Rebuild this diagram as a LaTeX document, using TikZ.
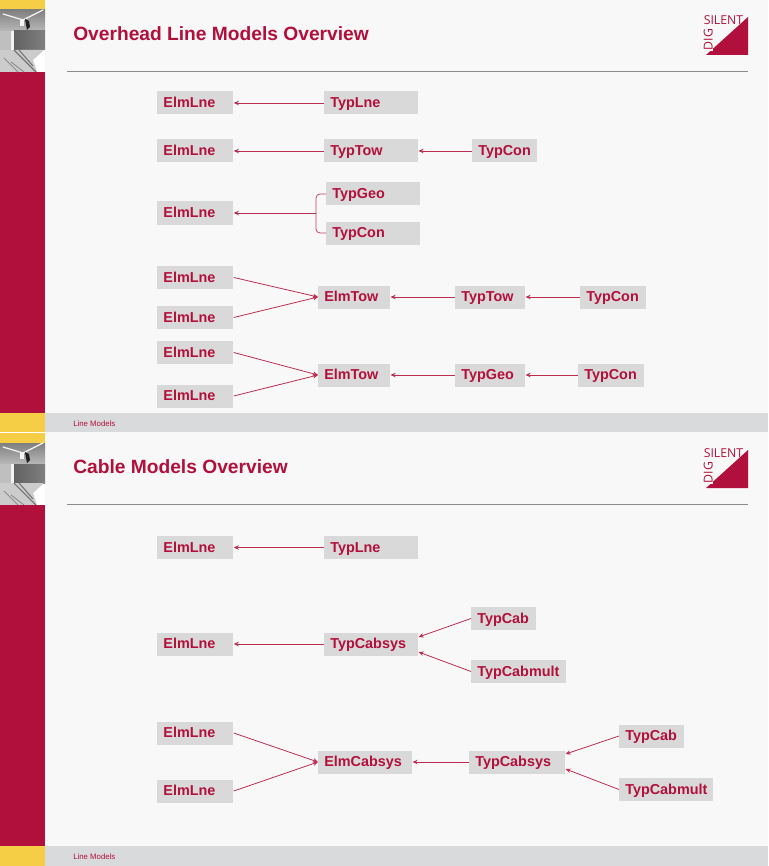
\documentclass[tikz,border=0pt]{standalone}
\usepackage{fontspec}
\setmainfont{Liberation Sans}
\newfontfamily\logofont{Open Sans}
\usetikzlibrary{arrows.meta,calc}
\definecolor{crim}{HTML}{B2103C}
\definecolor{gold}{HTML}{F6CE46}
\definecolor{pagebg}{HTML}{F8F8F8}
\definecolor{boxgray}{HTML}{D9D9D9}
\definecolor{footgray}{HTML}{D9DADB}
\definecolor{rulegray}{HTML}{8C8C8C}
\newcommand{\pagedeco}[2]{%
  \begin{scope}[yshift=#1*-0.75pt]
    \fill[gold] (0,0) rectangle (45,10);
    \fill[white] (0,10) rectangle (45,72);
    % turbine photo
    \shade[top color=black!50,bottom color=black!28] (0,10) rectangle (45,31);
    \shade[left color=black!62,right color=black!50] (14,31) rectangle (45,50);
    \fill[black!25] (0,31) rectangle (12,50);
    \fill[black!5] (11,31) rectangle (14,50);
    \fill[black!20] (0,50) -- (44,50) -- (33,60) -- (37,72) -- (0,72) -- cycle;
    \draw[black!55,line width=0.8pt] (14,50) -- (36,72) (19,50) -- (33,66);
    \draw[black!45,line width=0.7pt] (4,58) -- (18,72) (11,62) -- (24,72);
    \draw[black!4,line width=0.9pt,line cap=round] (3,14) -- (23,20) -- (43,10);
    \fill[black!4] (20,19) rectangle (24,26);
    \fill[black!88] (25,19) -- (29,21) -- (30,27) -- (27,30) -- cycle;
    % page rule and title
    \draw[rulegray,line width=0.75pt] (67,71.5) -- (748,71.5);
    \node[titletext] (title#1) at (73,34) {#2};
    % logo
    \fill[crim] (706,55) -- (748,55) -- (748,17) -- cycle;
    \node[logotext,anchor=south west] (silent#1) at (703.5,25.3) {SILENT};
    \node[logotext,anchor=south west,rotate=90,fill=pagebg,inner sep=0.3pt] (dig#1) at (713.5,51) {DIG};
  \end{scope}}
\tikzset{
  elbox/.style={fill=boxgray,anchor=west,inner xsep=4.5pt,inner ysep=0pt,
    text width=(#1-12)*0.75pt,minimum height=17.25pt,text height=7.8pt,text depth=0.4pt,
    text=crim,font=\fontsize{10.8pt}{12pt}\selectfont\bfseries},
  titletext/.style={anchor=west,inner sep=0pt,text=crim,font=\fontsize{14.4pt}{16pt}\selectfont\bfseries},
  foottext/.style={anchor=west,inner sep=0pt,text=crim,font=\fontsize{5.85pt}{7pt}\selectfont},
  logotext/.style={inner sep=0pt,text=crim,font=\logofont\fontsize{9.2pt}{9.5pt}\selectfont},
  link/.style={crim!88!white,line width=0.6pt,-{Stealth[length=3.8pt,width=3.4pt]}},
  plainlink/.style={crim!80!white,line width=0.6pt}
}
\begin{document}
\begin{tikzpicture}[x=0.75pt,y=-0.75pt]
\useasboundingbox (0,0) rectangle (768,866);
\fill[pagebg] (0,0) rectangle (768,866);
\fill[crim] (0,72) rectangle (45,413);
\fill[gold] (0,413) rectangle (45,431.5);
\fill[footgray] (45,413) rectangle (768,431.5);
\fill[white] (0,431.5) rectangle (45,433);
\pagedeco{0}{Overhead Line Models Overview}
\pagedeco{433}{Cable Models Overview}
\fill[crim] (0,505) rectangle (45,846);
\fill[gold] (0,846) rectangle (45,866);
\fill[footgray] (45,846) rectangle (768,866);
\node[foottext] (foot1) at (73,423.5) {Line Models};
\node[foottext] (foot2) at (73,856.5) {Line Models};
% row 1
\node[elbox=76] (a1) at (157.2,103) {ElmLne};
\node[elbox=94] (a2) at (324,103) {TypLne};
\draw[link] (a2.west) -- (a1.east);
% row 2
\node[elbox=76] (b1) at (157.2,151) {ElmLne};
\node[elbox=94] (b2) at (324,151) {TypTow};
\node[elbox=65] (b3) at (472,151) {TypCon};
\draw[link] (b2.west) -- (b1.east);
\draw[link] (b3.west) -- (b2.east);
% row 3
\node[elbox=76] (c1) at (157.2,213) {ElmLne};
\node[elbox=94] (c2) at (326,194) {TypGeo};
\node[elbox=94] (c3) at (326,233) {TypCon};
\coordinate (cj) at (316,213);
\draw[plainlink,rounded corners=3pt] (c2.west) -| (cj) |- (c3.west);
\draw[link] (cj) -- (c1.east);
% row 4
\node[elbox=76] (d1) at (157.2,277.5) {ElmLne};
\node[elbox=76] (d2) at (157.2,317.5) {ElmLne};
\node[elbox=72] (d3) at (318,297) {ElmTow};
\node[elbox=70] (d4) at (455,297) {TypTow};
\node[elbox=65.5] (d5) at (580,297) {TypCon};
\draw[link] (d1.east) -- (d3.west);
\draw[link] (d2.east) -- (d3.west);
\draw[link] (d4.west) -- (d3.east);
\draw[link] (d5.west) -- (d4.east);
% row 5
\node[elbox=76] (e1) at (157.2,352.5) {ElmLne};
\node[elbox=76] (e2) at (157.2,396) {ElmLne};
\node[elbox=72] (e3) at (318,375) {ElmTow};
\node[elbox=70] (e4) at (455,375) {TypGeo};
\node[elbox=65.5] (e5) at (578,375) {TypCon};
\draw[link] (e1.east) -- (e3.west);
\draw[link] (e2.east) -- (e3.west);
\draw[link] (e4.west) -- (e3.east);
\draw[link] (e5.west) -- (e4.east);
% cable row 1
\node[elbox=76] (f1) at (157.2,547.5) {ElmLne};
\node[elbox=94] (f2) at (324,547.5) {TypLne};
\draw[link] (f2.west) -- (f1.east);
% cable row 2
\node[elbox=76] (g1) at (157.2,644) {ElmLne};
\node[elbox=94] (g2) at (324,644) {TypCabsys};
\node[elbox=65] (g3) at (471,618.5) {TypCab};
\node[elbox=94.5] (g4) at (471,671.5) {TypCabmult};
\draw[link] (g2.west) -- (g1.east);
\draw[link] (g3.west) -- ([yshift=5.25pt]g2.east);
\draw[link] (g4.west) -- ([yshift=-6pt]g2.east);
% cable row 3
\node[elbox=76] (h1) at (157.2,733) {ElmLne};
\node[elbox=76] (h2) at (157.2,791) {ElmLne};
\node[elbox=94] (h3) at (318,762) {ElmCabsys};
\node[elbox=96] (h4) at (469,762) {TypCabsys};
\node[elbox=64.5] (h5) at (619,736) {TypCab};
\node[elbox=94] (h6) at (619,789.5) {TypCabmult};
\draw[link] (h1.east) -- (h3.west);
\draw[link] (h2.east) -- (h3.west);
\draw[link] (h4.west) -- (h3.east);
\draw[link] (h5.west) -- ([yshift=6pt]h4.east);
\draw[link] (h6.west) -- ([yshift=-5.25pt]h4.east);
\end{tikzpicture}
\end{document}
